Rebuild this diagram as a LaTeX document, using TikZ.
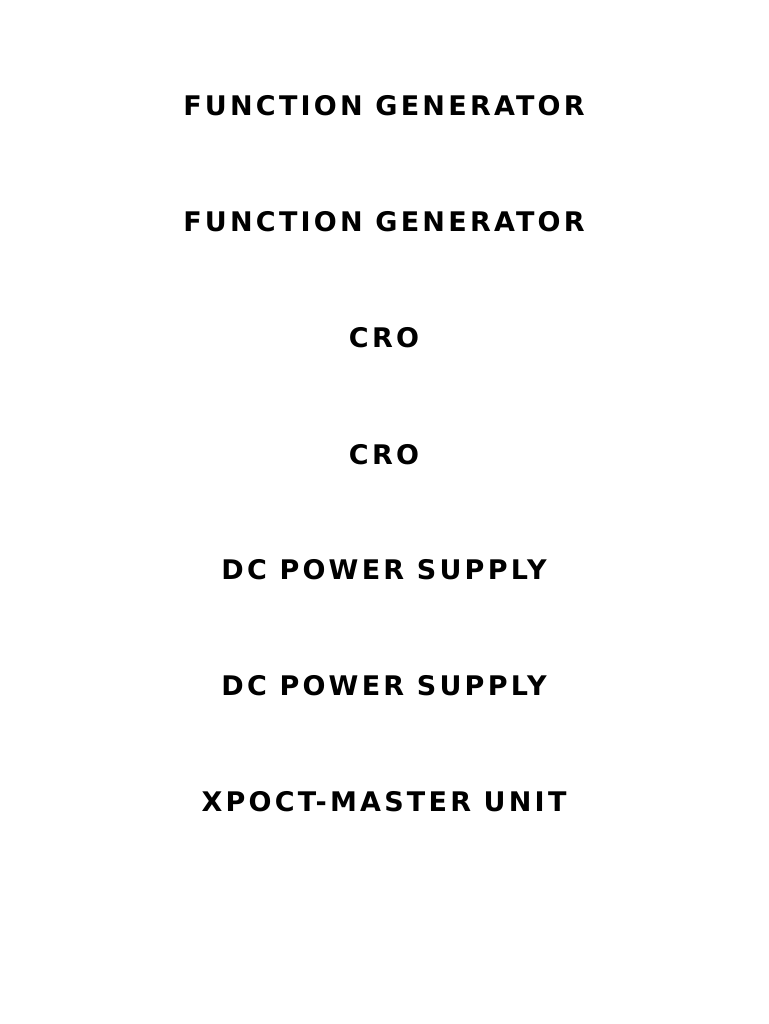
\documentclass[tikz,border=0pt]{standalone}
\usepackage{fontspec}
\setmainfont{DejaVu Sans}[LetterSpace=12]
\begin{document}
\begin{tikzpicture}[x=1pt,y=-1pt,lbl/.style={font=\bfseries\fontsize{27}{30}\selectfont,inner sep=0pt,anchor=center}]
\useasboundingbox (0,0) rectangle (768,1024);
\node[lbl] (a) at (384,106) {FUNCTION GENERATOR};
\node[lbl] (b) at (384,222) {FUNCTION GENERATOR};
\node[lbl] (c) at (384,338) {CRO};
\node[lbl] (d) at (384,455) {CRO};
\node[lbl] (e) at (384,570) {DC POWER SUPPLY};
\node[lbl] (f) at (384,686) {DC POWER SUPPLY};
\node[lbl] (g) at (384,802) {XPOCT-MASTER UNIT};
\end{tikzpicture}
\end{document}
